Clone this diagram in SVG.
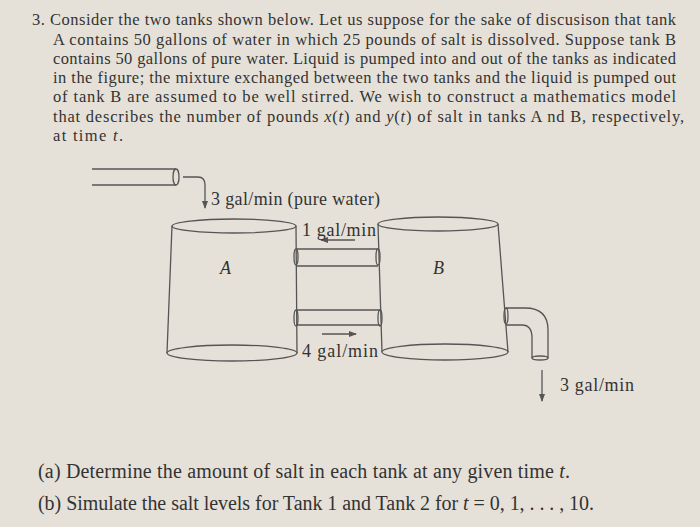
<svg xmlns="http://www.w3.org/2000/svg" width="700" height="527" viewBox="0 0 700 527">
<defs><marker id="ah" markerWidth="8" markerHeight="8" refX="7" refY="4" orient="auto" markerUnits="userSpaceOnUse"><path d="M0,1 L8,4 L0,7 Z" fill="#555"/></marker></defs>
<style>text{font-family:"Liberation Serif",serif;fill:#333}.b{font-size:16.5px}.s{stroke:#555;stroke-width:1.3;fill:none}.l{font-size:18px}.q{font-size:20px}</style>
<rect width="700" height="527" fill="#e6e1d8"/>
<g class="b">
<text x="32" y="25" textLength="644">3. Consider the two tanks shown below. Let us suppose for the sake of discusison that tank</text>
<text x="53" y="45" textLength="623">A contains 50 gallons of water in which 25 pounds of salt is dissolved. Suppose tank B</text>
<text x="53" y="64" textLength="623">contains 50 gallons of pure water. Liquid is pumped into and out of the tanks as indicated</text>
<text x="53" y="83" textLength="623">in the figure; the mixture exchanged between the two tanks and the liquid is pumped out</text>
<text x="53" y="102" textLength="623">of tank B are assumed to be well stirred. We wish to construct a mathematics model</text>
<text x="53" y="122" textLength="631">that describes the number of pounds <tspan font-style="italic">x</tspan>(<tspan font-style="italic">t</tspan>) and <tspan font-style="italic">y</tspan>(<tspan font-style="italic">t</tspan>) of salt in tanks A nd B, respectively,</text>
<text x="53" y="141" textLength="70">at time <tspan font-style="italic">t</tspan>.</text>
</g>
<g id="inlet"><path class="s" d="M92,169 H176 M92,185 H176"/><ellipse class="s" cx="176" cy="177" rx="3" ry="8"/></g>
<g id="tankA"><ellipse class="s" cx="234" cy="226" rx="62" ry="7"/><ellipse class="s" cx="232" cy="353" rx="65" ry="8"/><path class="s" d="M172,226 L167,353 M296,226 L297,353"/><text x="220" y="274" class="l" font-style="italic">A</text></g>
<g id="tankB"><ellipse class="s" cx="438" cy="224" rx="60" ry="7"/><ellipse class="s" cx="445" cy="352" rx="63" ry="8"/><path class="s" d="M378,224 L382,352 M498,224 L508,352"/><text x="433" y="274" class="l" font-style="italic">B</text></g>
<g id="pipes">
<path class="s" d="M296,249 H378 M296,266 H378 M296,310 H380 M296,325 H380"/>
<ellipse class="s" cx="296" cy="257" rx="2" ry="8"/><ellipse class="s" cx="378" cy="257" rx="2" ry="8"/>
<ellipse class="s" cx="296" cy="318" rx="2" ry="8"/><ellipse class="s" cx="380" cy="318" rx="2" ry="8"/>
</g>
<g id="outlet"><path class="s" d="M506,308 H525 Q548,308 548,330 V358 M506,325 H522 Q532,325 532,338 V358"/><ellipse class="s" cx="540" cy="358" rx="8" ry="2"/><ellipse class="s" cx="506" cy="316" rx="2" ry="8"/></g>
<g id="connectors">
<path class="s" d="M183,177 H198 Q205,177 205,185 V208" marker-end="url(#ah)"/>
<path class="s" d="M355,240 H321" marker-end="url(#ah)"/>
<path class="s" d="M322,334 H356" marker-end="url(#ah)"/>
<path class="s" d="M542,370 V401" marker-end="url(#ah)"/>
</g>
<g class="l">
<text x="211" y="205" textLength="169">3 gal/min (pure water)</text>
<text x="302" y="236" textLength="74">1 gal/min</text>
<text x="302" y="357" textLength="76">4 gal/min</text>
<text x="560" y="391" textLength="74">3 gal/min</text>
</g>
<g class="q">
<text x="38" y="478" textLength="532">(a) Determine the amount of salt in each tank at any given time <tspan font-style="italic">t</tspan>.</text>
<text x="38" y="510" textLength="556">(b) Simulate the salt levels for Tank 1 and Tank 2 for <tspan font-style="italic">t</tspan> = 0, 1, . . . , 10.</text>
</g>
</svg>
